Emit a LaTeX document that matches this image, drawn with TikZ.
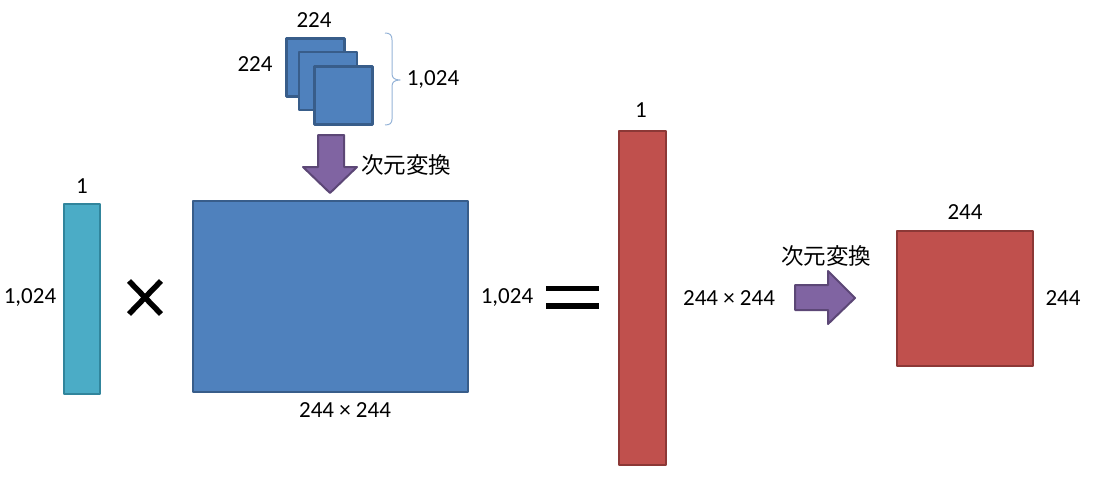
\documentclass[tikz,border=0pt]{standalone}
\usepackage{fontspec}
\setmainfont{Carlito}
\newfontfamily\cjk{Noto Sans CJK JP}
\definecolor{cyanfill}{HTML}{4BACC6}
\definecolor{cyanline}{HTML}{31859C}
\definecolor{bluefill}{HTML}{4F81BD}
\definecolor{blueline}{HTML}{385D8A}
\definecolor{redfill}{HTML}{C0504D}
\definecolor{redline}{HTML}{8C3836}
\definecolor{purplefill}{HTML}{8064A2}
\definecolor{purpleline}{HTML}{5C4776}
\definecolor{bracecol}{HTML}{95B3D7}
\begin{document}
\begin{tikzpicture}[x=1pt,y=-1pt,line join=round,
  lbl/.style={font=\fontsize{23}{26}\selectfont, inner sep=0},
  jlbl/.style={font=\cjk\fontsize{22.5}{26}\selectfont, inner sep=0},
  cyanbox/.style={draw=cyanline, fill=cyanfill, line width=2.5pt, inner sep=0},
  bluebox/.style={draw=blueline, fill=bluefill, line width=2.5pt, inner sep=0},
  redbox/.style={draw=redline, fill=redfill, line width=2.5pt, inner sep=0},
  bigarrow/.style={draw=purpleline, fill=purplefill, line width=2pt},
  opline/.style={line width=5.5pt, black}]
\useasboundingbox (0,0) rectangle (1094,482);

% input vector
\node[cyanbox, minimum width=36, minimum height=190] (vec) at (82,299) {};
\node[lbl] (vecw) at (82,186) {1};
\node[lbl] (vech) at (30,298) {1,024};

% times sign
\coordinate (tA) at (129,281);
\coordinate (tB) at (161,314);
\coordinate (tC) at (129,314);
\coordinate (tD) at (161,281);
\draw[opline] (tA) -- (tB) (tC) -- (tD);

% weight matrix
\node[bluebox, minimum width=275, minimum height=191] (mat) at (330.5,296.5) {};
\node[lbl] (matw) at (345,410) {244 × 244};
\node[lbl] (math) at (507,298) {1,024};

% image stack
\node[bluebox, minimum width=58, minimum height=58] (img1) at (315.5,67.5) {};
\node[bluebox, minimum width=58, minimum height=58] (img2) at (328,81) {};
\node[bluebox, minimum width=58, minimum height=58] (img3) at (343.5,95.5) {};
\node[lbl] (imgw) at (314,20) {224};
\node[lbl] (imgh) at (255,64) {224};
\node[lbl] (imgc) at (433,80) {1,024};
\draw[bracecol, line width=1pt] (385,33) .. controls (390,33) and (392,35) .. (392,40)
  -- (392,74) .. controls (392,78) and (395,80) .. (400,80)
  .. controls (395,80) and (392,82) .. (392,86) -- (392,119)
  .. controls (392,123) and (390,125) .. (385,125);

% down arrow
\draw[bigarrow] (318,135) -- (344,135) -- (344,167) -- (357,167) -- (330,193) -- (303,167) -- (318,167) -- cycle;
\node[jlbl] (conv1) at (406,165) {次元変換};

% equals sign
\coordinate (eA) at (546,288.5);
\coordinate (eB) at (599,288.5);
\coordinate (eC) at (546,306);
\coordinate (eD) at (599,306);
\draw[line width=5.5pt] (eA) -- (eB) (eC) -- (eD);

% output vector
\node[redbox, minimum width=47, minimum height=334] (out) at (642.5,298) {};
\node[lbl] (outw) at (641,110) {1};
\node[lbl] (outh) at (729,298) {244 × 244};

% right arrow
\draw[bigarrow] (795,285) -- (828,285) -- (828,271) -- (855,298) -- (828,324) -- (828,310) -- (795,310) -- cycle;
\node[jlbl] (conv2) at (826,256) {次元変換};

% output image
\node[redbox, minimum width=136, minimum height=135] (res) at (965,298.5) {};
\node[lbl] (resw) at (965,212) {244};
\node[lbl] (resh) at (1063,298) {244};
\end{tikzpicture}
\end{document}
